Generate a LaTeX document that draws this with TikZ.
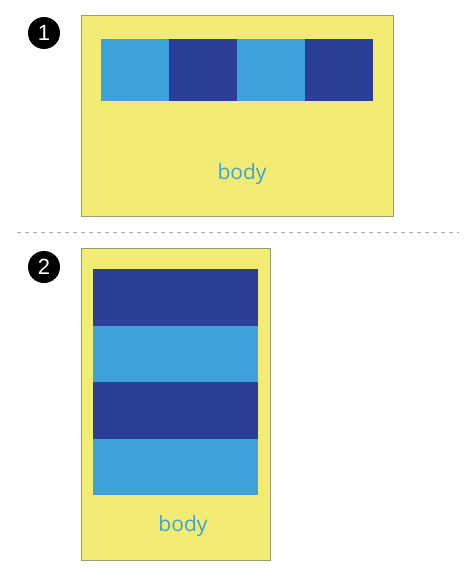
\documentclass[tikz,border=0pt]{standalone}
\usepackage{fontspec}
\setmainfont{Open Sans}
\newfontfamily\numfont{Liberation Sans}
\definecolor{bodyyellow}{HTML}{F2EC74}
\definecolor{edgegray}{HTML}{9C9A6C}
\definecolor{lightblue}{HTML}{3FA1D9}
\definecolor{darkblue}{HTML}{2B3F98}
\definecolor{rulegray}{HTML}{AAAAAA}
\tikzset{
  bodybox/.style={fill=bodyyellow, draw=edgegray, line width=.8pt},
  bodylabel/.style={text=lightblue, font=\fontsize{21}{21}\selectfont},
  stepnum/.style={circle, fill=black, text=white, inner sep=0pt, minimum size=32pt, font=\numfont\fontsize{22}{22}\selectfont}
}
\begin{document}
\begin{tikzpicture}[x=1pt,y=-1pt]
	\useasboundingbox (0,0) rectangle (474,573);
	\begin{scope}
		\node[stepnum] (num1) at (44,33) {1};
		\draw[bodybox] (81,15) rectangle (393,216);
		\foreach \i/\c in {0/lightblue,1/darkblue,2/lightblue,3/darkblue}
			\fill[\c] (101+68*\i,39) rectangle +(68,62);
		\node[bodylabel] (body1) at (242,174) {body};
	\end{scope}
	\draw[rulegray, line width=1pt, dash pattern=on 4pt off 4pt] (17,232) -- (459,232);
	\begin{scope}[yshift=-232pt]
		\node[stepnum] (num2) at (44,35) {2};
		\draw[bodybox] (81,16) rectangle (270,328);
		\foreach \i/\c in {0/darkblue,1/lightblue,2/darkblue,3/lightblue}
			\fill[\c] (93,37+56.5*\i) rectangle +(165,56.5);
		\node[bodylabel] (body2) at (183,294) {body};
	\end{scope}
\end{tikzpicture}
\end{document}
